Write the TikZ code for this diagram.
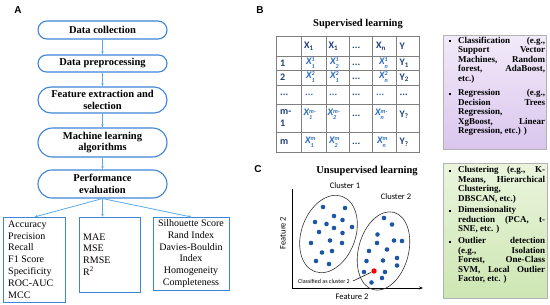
\documentclass[tikz,border=0pt]{standalone}
\usepackage{fontspec}
\setmainfont{Liberation Serif}
\setsansfont{Liberation Sans}
\newfontfamily\carl{Carlito}
\usetikzlibrary{shapes.misc,arrows.meta}
\definecolor{flowblue}{HTML}{3D85D8}
\definecolor{arrowblue}{HTML}{5BA9E5}
\definecolor{navy}{HTML}{1F3F7A}
\definecolor{cellblue}{HTML}{2A6BBF}
\definecolor{dotblue}{HTML}{1D56A5}
\definecolor{purpA}{HTML}{F2EAF9}
\definecolor{purpB}{HTML}{DAC6EE}
\definecolor{greenA}{HTML}{EAF5DD}
\definecolor{greenB}{HTML}{CDE6B2}
\definecolor{gridgray}{HTML}{7F7F7F}
\newcommand{\xsx}[2]{\textit{X}\raisebox{-0.2ex}{\fontsize{6}{6.6}\selectfont\itshape\renewcommand{\arraystretch}{1}\begin{tabular}[c]{@{}l@{}}#2\\#1\end{tabular}}}
\newcommand{\jline}[1]{\makebox[87pt][s]{#1}}
\newcommand{\lline}[1]{\makebox[87pt][l]{#1}}
\begin{document}
\begin{tikzpicture}[x=1pt,y=-1pt,
  stadium/.style={rounded rectangle, draw=flowblue, line width=1.1pt, fill=white,
    minimum width=131pt, inner sep=1pt, align=center,
    font=\bfseries\fontsize{10.5}{11.5}\selectfont},
  flowarrow/.style={draw=arrowblue, line width=0.8pt, -{Latex[length=3pt,width=2.6pt]}},
  metricbox/.style={draw=flowblue, line width=0.8pt, anchor=north west, inner sep=0pt},
  metrictext/.style={font=\fontsize{10}{11.8}\selectfont, inner sep=0pt},
  panel/.style={font=\sffamily\bfseries\fontsize{10}{12}\selectfont, inner sep=0pt},
  ptitle/.style={font=\bfseries\fontsize{10.5}{12}\selectfont, inner sep=0pt},
  cell/.style={anchor=west, inner sep=0pt, font=\carl\bfseries\fontsize{10}{10}\selectfont, text=navy},
  mcell/.style={cell, text=cellblue, font=\carl\bfseries\itshape\fontsize{10}{10}\selectfont},
  gridline/.style={draw=gridgray, line width=0.7pt},
  listtext/.style={anchor=north west, inner sep=0pt, align=left, font=\bfseries\fontsize{9}{9.5}\selectfont},
  bullet/.style={fill=black, inner sep=0pt, minimum size=2.2pt},
  sfl/.style={font=\carl\fontsize{8.5}{10}\selectfont, inner sep=0pt},
  dot/.style={fill=dotblue}
]
\useasboundingbox (0,0) rectangle (550,305);

% ---------------- Panel A ----------------
\node[panel] (la) at (18,10) {A};
\node[stadium, minimum height=18pt] (dc) at (102.5,30) {Data collection};
\node[stadium, minimum height=17pt] (dp) at (102.5,63.5) {Data preprocessing};
\node[stadium, minimum height=26pt] (fe) at (102.5,100) {Feature extraction and\\selection};
\node[stadium, minimum height=29pt] (ml) at (102.5,142.5) {Machine learning\\algorithms};
\node[stadium, minimum height=28pt] (pe) at (102.5,184) {Performance\\evaluation};
\draw[flowarrow] (dc) -- (dp);
\draw[flowarrow] (dp) -- (fe);
\draw[flowarrow] (fe) -- (ml);
\draw[flowarrow] (ml) -- (pe);

\node[metricbox, minimum width=62pt, minimum height=85pt] (lb) at (3,217) {};
\node[metricbox, minimum width=61pt, minimum height=75pt] (mb) at (79,217) {};
\node[metricbox, minimum width=76pt, minimum height=73pt] (rb) at (153,217) {};
\draw[flowarrow] (pe.south) -- (lb.north);
\draw[flowarrow] (pe.south) -- (pe.south |- mb.north);
\draw[flowarrow] (pe.south) -- (rb.north);

\node[metrictext, anchor=west, align=left] (lt) at (8,259.5)
  {Accuracy\\Precision\\Recall\\F1 Score\\Specificity\\ROC-AUC\\MCC};
\node[metrictext, anchor=west, align=left] (mt) at (83,254.5)
  {MAE\\MSE\\RMSE\\R\textsuperscript{2}};
\node[metrictext, align=center] (rt) at (191,253.5)
  {Silhouette Score\\Rand Index\\Davies-Bouldin\\Index\\Homogeneity\\Completeness};

% ---------------- Panel B ----------------
\node[panel] (lbB) at (260,10) {B};
\node[ptitle] (st) at (358,24) {Supervised learning};
\draw[gridline] (276,36) rectangle (419,152);
\foreach \x in {301.7,326,349,372.7,396.7} \draw[gridline] (\x,36) -- (\x,152);
\foreach \y in {56.5,70.5,85,104,132} \draw[gridline] (276,\y) -- (419,\y);

% header
\node[cell] (h1) at (304,46.5) {X\textsubscript{1}};
\node[cell] (h2) at (328.5,46.5) {X\textsubscript{1}};
\node[cell] (h3) at (352,47.5) {...};
\node[cell] (h4) at (376,46.5) {X\textsubscript{n}};
\node[cell] (h5) at (399.5,46.5) {Y};
% row 1
\node[cell] (r1a) at (280,63.5) {1};
\node[mcell] (r1b) at (306,63.5) {\xsx{1}{1}};
\node[mcell] (r1c) at (330,63.5) {\xsx{2}{1}};
\node[cell] (r1d) at (352,64.5) {...};
\node[mcell] (r1e) at (379,63.5) {\xsx{n}{1}};
\node[cell] (r1f) at (399.5,63.5) {Y\textsubscript{1}};
% row 2
\node[cell] (r2a) at (280,77.7) {2};
\node[mcell] (r2b) at (306,77.7) {\xsx{1}{2}};
\node[mcell] (r2c) at (330,77.7) {\xsx{1}{2}};
\node[cell] (r2d) at (352,78.7) {...};
\node[mcell] (r2e) at (379,77.7) {\xsx{n}{2}};
\node[cell] (r2f) at (399.5,77.7) {Y\textsubscript{2}};
% row dots
\node[cell] (r3a) at (280,95) {...};
\node[cell, text=cellblue] (r3b) at (305,95) {...};
\node[cell, text=cellblue] (r3c) at (329,95) {...};
\node[cell] (r3d) at (352,95) {...};
\node[cell, text=cellblue] (r3e) at (376,95) {...};
\node[cell] (r3f) at (399.5,95) {...};
% row m-1
\node[cell, align=left, font=\carl\bfseries\fontsize{10}{12.5}\selectfont] (r4a) at (280,118) {m-\\1};
\node[mcell] (r4b) at (303.5,115) {\xsx{1}{m-}};
\node[mcell] (r4c) at (327.5,115) {\xsx{2}{m-}};
\node[cell] (r4d) at (352,116) {...};
\node[mcell] (r4e) at (375,115) {\xsx{n}{m-}};
\node[cell] (r4f) at (399.5,115) {Y\textsubscript{?}};
% row m
\node[cell] (r5a) at (280,142.5) {m};
\node[mcell] (r5b) at (305,142.5) {\xsx{1}{m}};
\node[mcell] (r5c) at (329,142.5) {\xsx{2}{m}};
\node[cell] (r5d) at (352,143.5) {...};
\node[mcell] (r5e) at (377,142.5) {\xsx{n}{m}};
\node[cell] (r5f) at (399.5,142.5) {Y\textsubscript{?}};

% purple box
\node[draw=gray!60, line width=0.6pt, top color=purpA, bottom color=purpB, anchor=north west,
  minimum width=103pt, minimum height=114pt, inner sep=0pt] (pbox) at (443,35) {};
\node[bullet] (pb1) at (450,41) {};
\node[listtext] (pt1) at (458,36.5)
  {\jline{Classification (e.g.,}\\\jline{Support Vector}\\\jline{Machines, Random}\\\jline{forest, AdaBoost,}\\\lline{etc.)}};
\node[bullet] (pb2) at (450,94) {};
\node[listtext] (pt2) at (458,89.5)
  {\jline{Regression (e.g.,}\\\jline{Decision Trees}\\\lline{Regression,}\\\jline{XgBoost, Linear}\\\lline{Regression, etc.) )}};

% ---------------- Panel C ----------------
\node[panel] (lc) at (258,169) {C};
\node[ptitle] (ut) at (367,171) {Unsupervised learning};
\coordinate (ytop) at (292,189);
\coordinate (orig) at (292,288);
\coordinate (xend) at (423,288);
\draw[line width=0.7pt, -{Stealth[length=4pt,width=3pt]}] (ytop) -- (orig) -- (xend);
\node[sfl, rotate=90] (fy) at (283,233) {Feature 2};
\node[sfl] (fx) at (352,297) {Feature 2};
\node[sfl] (c1) at (345,186) {Cluster 1};
\node[sfl] (c2) at (396,197) {Cluster 2};

\draw[gray!40!black, line width=0.6pt, rotate around={-20:(328.5,234)}] (328.5,234) ellipse (27 and 40);
\draw[gray!40!black, line width=0.6pt, rotate around={-15:(383.5,251)}] (383.5,251) ellipse (25 and 40);

\foreach \p in {(323,207),(345,208),(334,216),(315,222),(326.5,224),(342.5,220),(334,228),(352,227),
  (319,232),(342.5,233),(311,243),(330,240.5),(342,243),(322,252.5),(332,251),(316,261),(329,264)}
  \fill[dot] \p circle (2.3);
\foreach \p in {(384,218),(392,224.5),(377.5,234.5),(377,243),(394,240.5),(402,241),(369,251),(387,249.5),
  (366.5,261),(383,260.5),(397,258),(397,265.5),(364,272),(385,272),(382,278),(371.5,282.5)}
  \fill[dot] \p circle (2.3);
\node[circle, fill=red, inner sep=0pt, minimum size=5.4pt] (reddot) at (374,271) {};
\node[font=\carl\fontsize{6}{7}\selectfont, inner sep=0pt] (cls) at (324,281) {Classified as cluster 2};
\draw[line width=0.5pt] ([xshift=3pt]cls.east) -- (reddot);

% green box
\node[draw=gray!60, line width=0.6pt, top color=greenA, bottom color=greenB, anchor=north west,
  minimum width=104pt, minimum height=135pt, inner sep=0pt] (gbox) at (443,163) {};
\node[bullet] (gb1) at (450,171) {};
\node[listtext] (gt1) at (458,166.5)
  {\jline{Clustering (e.g., K-}\\\jline{Means, Hierarchical}\\\lline{Clustering,}\\\lline{DBSCAN, etc.)}};
\node[bullet] (gb2) at (450,211) {};
\node[listtext] (gt2) at (458,206.5)
  {\lline{Dimensionality}\\\jline{reduction (PCA, t-}\\\lline{SNE, etc. )}};
\node[bullet] (gb3) at (450,242) {};
\node[listtext] (gt3) at (458,237.5)
  {\jline{Outlier detection}\\\jline{(e.g., Isolation}\\\jline{Forest, One-Class}\\\jline{SVM, Local Outlier}\\\lline{Factor, etc. )}};
\end{tikzpicture}
\end{document}
